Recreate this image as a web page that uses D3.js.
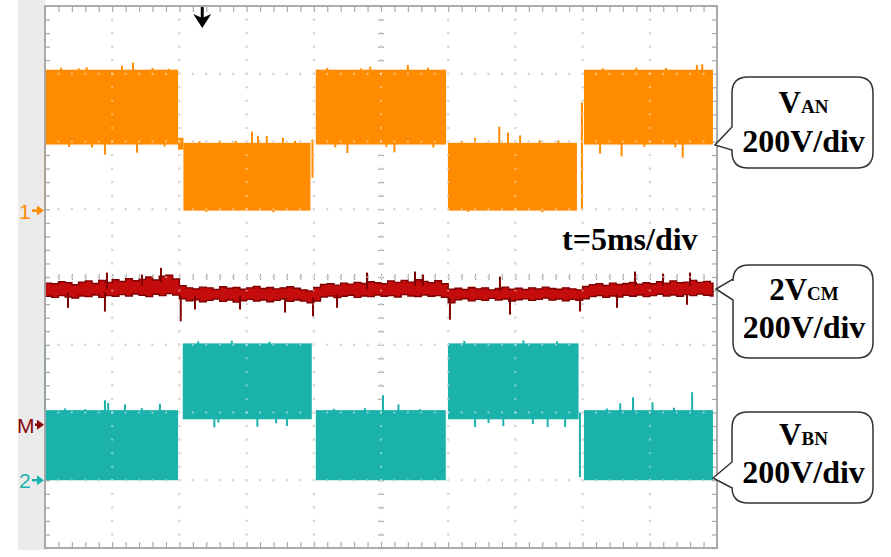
<!DOCTYPE html>
<html><head><meta charset="utf-8">
<script src="https://cdn.jsdelivr.net/npm/d3@7"></script>
<style>body{margin:0;background:#fff;}svg{display:block;}</style>
</head><body><svg id="c" width="891" height="557"></svg>
<script>
// ---------------- data ----------------
const timeRangeMs = [0, 50];          // 10 div x 5 ms/div
const divRange = [-4, 4];             // 8 vertical divisions
const voltsPerDiv = 200;
const majorTimeTicks = [0, 5, 10, 15, 20, 25, 30, 35, 40, 45, 50];
const majorDivTicks = [-4, -3, -2, -1, 0, 1, 2, 3, 4];
const triggerTimeMs = 11.7;

// channel reference markers (divisions from screen centre)
const channelNames = ["1", "M", "2"];
const channelOffsets = [0.98, -2.18, -3.0];

// V_AN (ch1) switching bands, volts
const vanStart = [0, 9.9, 10.3, 20.15, 29.98, 40.1];
const vanEnd   = [9.9, 10.3, 19.75, 29.84, 39.58, 49.7];
const vanLow   = [195, 180, 0, 195, 0, 195];
const vanHigh  = [416, 215, 200, 416, 200, 416];
// [time ms, from V, to V]
const vanSpikes = [[0,0,195],[4.46,165,200],[6.85,171,200],[6.55,410,437],[5.73,410,428],
  [15.4,195,233],[16.5,195,220],[15.85,195,221],[17.7,195,215],[19.9,97,210],
  [22.5,170,200],[26.0,172,200],[27.0,410,430],[24.2,410,425],
  [33.8,195,248],[34.45,195,230],[35.35,195,222],[32.0,195,215],[39.95,3,319],
  [48.9,410,432],[48.5,410,430],[42.9,160,200],[47.45,156,200],[41.3,168,200],
  [1.2,410,422],[2.5,410,420],[3.1,410,423],[8.0,410,421],[9.2,410,419],[21.0,410,421],
  [23.5,410,420],[28.5,410,422],[41.5,410,420],[44.0,410,422],[46.2,410,421],
  [1.8,188,200],[3.5,186,200],[8.9,189,200],[21.6,187,200],[25.4,188,200],[28.9,186,200],
  [44.6,188,200],[46.9,187,200],[11.5,195,205],[13.0,195,207],[14.2,195,206],[18.6,195,206],
  [31.0,195,205],[36.8,195,208],[38.2,195,207],[12.0,-4,5],[17.0,-5,5],[31.5,-4,5],[37.0,-5,5]];

// V_BN (ch2) switching bands, volts
const vbnStart = [0, 10.25, 20.15, 29.98, 40.1];
const vbnEnd   = [9.9, 19.85, 29.82, 39.7, 49.7];
const vbnLow   = [0, 180, 0, 180, 0];
const vbnHigh  = [207, 404, 207, 404, 207];
const vbnSpikes = [[0,200,402],[4.46,200,236],[4.7,200,228],[8.55,200,226],[5.95,200,224],
  [12.6,156,185],[15.8,158,185],[18.0,160,185],[25.15,200,251],[26.3,200,224],
  [32.0,157,185],[37.4,157,185],[38.7,157,185],[34.1,160,185],[39.8,9,200],
  [43.75,200,245],[48.15,200,260],[42.8,200,227],[45.2,200,230],
  [1.5,200,212],[3.0,200,210],[7.2,200,213],[21.5,200,211],[23.8,200,213],[27.9,200,210],
  [41.8,200,212],[46.8,200,214],[11.4,400,410],[13.9,400,412],[16.7,400,409],[31.2,400,411],
  [35.6,400,413],[38.1,400,410],[12.9,170,185],[17.2,168,185],[33.0,169,185],[36.3,166,185]];

// 2V_CM (math channel), sampled every 0.5 ms, volts
const cmStepMs = 0.5;
const cmTop = [418,416,422,419,413,421,424,417,426,420,428,423,431,425,429,436,427,438,441,430,
  410,
  404,401,406,404,399,407,403,405,400,404,408,402,405,401,404,407,403,398,395,
  405,
  414,416,412,418,415,420,417,422,419,416,424,420,426,421,428,423,419,425,416,
  400,
  403,399,405,401,404,398,402,406,400,403,399,404,401,406,402,400,404,401,398,
  408,
  413,416,411,418,414,417,420,415,419,416,422,418,424,419,421,426,420,423,418];
const cmBot = [379,376,381,377,374,380,378,383,376,381,379,384,380,386,382,378,385,381,387,383,
  372,
  366,369,363,367,371,364,368,362,366,370,365,368,363,367,371,364,368,365,360,
  365,
  377,380,375,379,382,376,380,378,383,379,381,377,384,380,378,383,379,381,376,
  360,
  369,372,366,370,367,373,368,371,365,369,372,367,370,374,368,371,366,370,367,
  372,
  378,381,376,380,377,382,379,383,378,381,385,380,383,379,384,381,386,382,380];
const cmSpikes = [[4.61,400,449],[7.22,410,443],[8.63,420,463],[23.96,400,449],[27.53,410,452],
  [28.13,410,443],[33.85,395,437],[43.9,410,452],[45.98,410,446],[47.99,410,449],
  [1.71,345,390],[4.46,334,390],[10.1,305,380],[11.16,340,380],[14.51,340,380],[17.86,331,375],
  [19.94,320,375],[21.73,345,385],[30.13,310,375],[34.6,325,375],[39.81,334,375],[42.56,345,385],[47.77,354,385]];

// annotation texts
const calloutMain = ["V", "2V", "V"];
const calloutSub = ["AN", "CM", "BN"];
const calloutScale = ["200V/div", "200V/div", "200V/div"];
const timebaseLabel = "t=5ms/div";

// ---------------- drawing ----------------
const svg = d3.select("#c");
const W = 891, H = 557;
const L = 45, R = 717, T = 6, B = 548;
const x = d3.scaleLinear().domain(timeRangeMs).range([L, R]);
const y = d3.scaleLinear().domain(divRange).range([B, T]);
const vy = (ch, v) => y(channelOffsets[ch] + v / voltsPerDiv);

const colOrange = "#ff8c00", colTeal = "#1cb2ac", colRed = "#c40c0c", colDark = "#7e0000";

svg.append("rect").attr("width", W).attr("height", H).attr("fill", "#fff");
svg.append("rect").attr("x", 18).attr("y", 0).attr("width", L - 18).attr("height", 550).attr("fill", "#ebebeb");
svg.append("rect").attr("x", L).attr("y", T).attr("width", R - L).attr("height", B - T).attr("fill", "#fff");

const minorT = d3.range(0, 50.001, 1);
const minorD = d3.range(-4, 4.001, 0.2);

function grid(g, color, op) {
  majorTimeTicks.slice(1, -1).forEach(t => {
    minorD.forEach(d => g.append("rect").attr("x", x(t) - 1).attr("y", y(d) - 1).attr("width", 2).attr("height", 2)
      .attr("fill", color).attr("opacity", op));
  });
  majorDivTicks.slice(1, -1).forEach(d => {
    minorT.forEach(t => g.append("rect").attr("x", x(t) - 1).attr("y", y(d) - 1).attr("width", 2).attr("height", 2)
      .attr("fill", color).attr("opacity", op));
  });
}
grid(svg.append("g"), "#b4b4b4", 1);

// centre-line minor ticks & border ticks via axes
function axisStyle(g) { g.select(".domain").remove(); g.selectAll("line").attr("stroke", "#aaaaaa").attr("stroke-width", 1.2); g.selectAll("text").remove(); }
const tickT = minorT, tickD = minorD;
svg.append("g").attr("transform", `translate(0,${y(0)})`).call(d3.axisTop(x).tickValues(tickT).tickSize(3)).call(axisStyle);
svg.append("g").attr("transform", `translate(0,${y(0)})`).call(d3.axisBottom(x).tickValues(tickT).tickSize(3)).call(axisStyle);
svg.append("g").attr("transform", `translate(${x(25)},0)`).call(d3.axisLeft(y).tickValues(tickD).tickSize(3)).call(axisStyle);
svg.append("g").attr("transform", `translate(${x(25)},0)`).call(d3.axisRight(y).tickValues(tickD).tickSize(3)).call(axisStyle);
svg.append("g").attr("transform", `translate(0,${T})`).call(d3.axisBottom(x).tickValues(tickT).tickSize(6)).call(axisStyle);
svg.append("g").attr("transform", `translate(0,${B})`).call(d3.axisTop(x).tickValues(tickT).tickSize(6)).call(axisStyle);
svg.append("g").attr("transform", `translate(${L},0)`).call(d3.axisRight(y).tickValues(tickD).tickSize(5)).call(axisStyle);
svg.append("g").attr("transform", `translate(${R},0)`).call(d3.axisLeft(y).tickValues(tickD).tickSize(5)).call(axisStyle);

// traces
const tr = svg.append("g");
function bands(ch, st, en, lo, hi, spikes, col) {
  st.forEach((s, i) => {
    tr.append("rect").attr("x", x(s)).attr("width", Math.max(1, x(en[i]) - x(s)))
      .attr("y", vy(ch, hi[i])).attr("height", vy(ch, lo[i]) - vy(ch, hi[i])).attr("fill", col);
  });
  spikes.forEach(s => tr.append("line").attr("x1", x(s[0])).attr("x2", x(s[0]))
    .attr("y1", vy(ch, s[1])).attr("y2", vy(ch, s[2])).attr("stroke", col).attr("stroke-width", 2));
}
bands(0, vanStart, vanEnd, vanLow, vanHigh, vanSpikes, colOrange);
bands(2, vbnStart, vbnEnd, vbnLow, vbnHigh, vbnSpikes, colTeal);

const cmPts = cmTop.map((v, i) => ({ t: i * cmStepMs, top: v, bot: cmBot[i] }));
cmPts.push({ t: 49.7, top: cmTop[cmTop.length - 1], bot: cmBot[cmBot.length - 1] });
tr.append("path").datum(cmPts)
  .attr("d", d3.area().x(d => x(d.t)).y0(d => vy(1, d.bot)).y1(d => vy(1, d.top)).curve(d3.curveStepAfter))
  .attr("fill", colRed).attr("stroke", colDark).attr("stroke-width", 1.4);
cmSpikes.forEach(s => tr.append("line").attr("x1", x(s[0])).attr("x2", x(s[0]))
  .attr("y1", vy(1, s[1])).attr("y2", vy(1, s[2])).attr("stroke", colDark).attr("stroke-width", 2));

// grid showing through traces
grid(svg.append("g"), "#ffffff", 0.45);

// border
svg.append("rect").attr("x", L).attr("y", T).attr("width", R - L).attr("height", B - T)
  .attr("fill", "none").attr("stroke", "#a4a4a4").attr("stroke-width", 1.8);

// trigger arrow
const tx = x(triggerTimeMs);
svg.append("line").attr("x1", tx).attr("x2", tx).attr("y1", 7).attr("y2", 20).attr("stroke", "#000").attr("stroke-width", 3);
svg.append("path").attr("d", `M${tx - 9},14 L${tx},18 L${tx + 9},14 L${tx},28 Z`).attr("fill", "#000");

// channel markers
const markerCols = [colOrange, "#8a0505", colTeal];
channelNames.forEach((n, i) => {
  const yy = y(channelOffsets[i]);
  const g = svg.append("g").attr("fill", markerCols[i]);
  g.append("text").attr("x", n === "M" ? 17 : 19).attr("y", yy + 8).attr("font-family", "Arial, 'Liberation Sans', sans-serif")
    .attr("font-size", 21).text(n);
  const ax = n === "M" ? 35 : 32;
  g.append("line").attr("x1", ax).attr("x2", 40).attr("y1", yy).attr("y2", yy).attr("stroke", markerCols[i]).attr("stroke-width", 2.5);
  g.append("path").attr("d", `M${37},${yy - 5} L${44},${yy} L${37},${yy + 5} Z`);
});

// callouts
const boxes = [
  { x0: 732, y0: 77, x1: 873, y1: 168, tx: 715, ty: 145, pa: 127, pb: 150, base1: 113, base2: 152 },
  { x0: 733, y0: 265, x1: 873, y1: 358, tx: 716, ty: 289, pa: 279, pb: 300, base1: 300, base2: 338 },
  { x0: 732, y0: 412, x1: 873, y1: 503, tx: 713, ty: 478, pa: 462, pb: 488, base1: 445, base2: 483 }
];
const r = 16;
boxes.forEach((b, i) => {
  const d = `M${b.x0 + r},${b.y0} H${b.x1 - r} Q${b.x1},${b.y0} ${b.x1},${b.y0 + r} V${b.y1 - r} Q${b.x1},${b.y1} ${b.x1 - r},${b.y1}` +
    ` H${b.x0 + r} Q${b.x0},${b.y1} ${b.x0},${b.y1 - r} V${b.pb} L${b.tx},${b.ty} L${b.x0},${b.pa} V${b.y0 + r} Q${b.x0},${b.y0} ${b.x0 + r},${b.y0} Z`;
  svg.append("path").attr("d", d).attr("fill", "#fff").attr("stroke", "#333").attr("stroke-width", 1.5);
  const cx = (b.x0 + b.x1) / 2 + 1;
  const t1 = svg.append("text").attr("x", cx).attr("y", b.base1).attr("text-anchor", "middle")
    .attr("font-family", "'Liberation Serif', 'Times New Roman', serif").attr("font-weight", "bold").attr("font-size", 31);
  t1.append("tspan").text(calloutMain[i]);
  t1.append("tspan").attr("font-size", 19).text(calloutSub[i]);
  svg.append("text").attr("x", cx).attr("y", b.base2).attr("text-anchor", "middle")
    .attr("font-family", "'Liberation Serif', 'Times New Roman', serif").attr("font-weight", "bold").attr("font-size", 32)
    .text(calloutScale[i]);
});
svg.append("text").attr("x", 562).attr("y", 250)
  .attr("font-family", "'Liberation Serif', 'Times New Roman', serif").attr("font-weight", "bold").attr("font-size", 32)
  .text(timebaseLabel);
</script></body></html>
